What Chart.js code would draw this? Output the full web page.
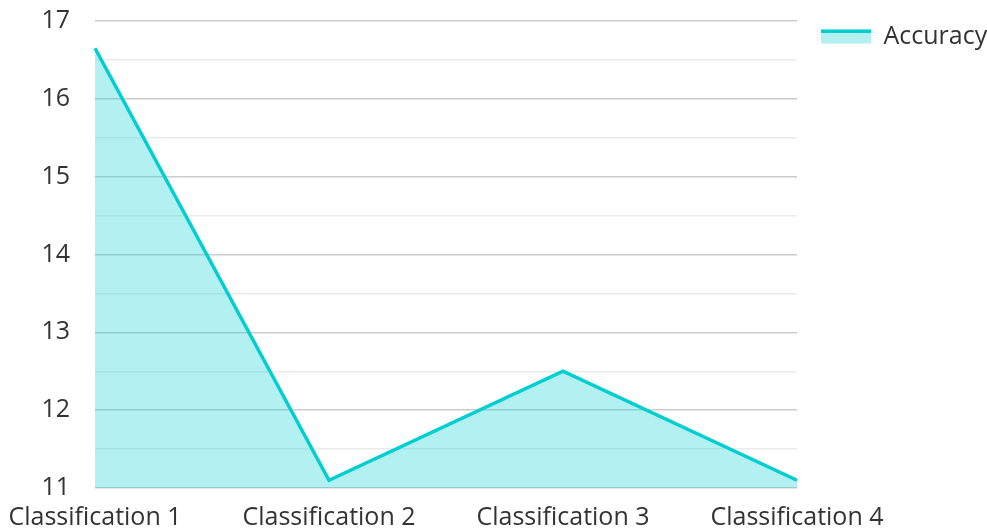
<!DOCTYPE html>
<html>
<head>
<meta charset="utf-8">
<script src="https://cdn.jsdelivr.net/npm/chart.js@4/dist/chart.umd.min.js"></script>
<style>
  html, body { margin: 0; padding: 0; background: #fff; }
  #wrap { width: 987px; height: 529px; }
</style>
</head>
<body>
<div id="wrap"><canvas id="lineChart"></canvas></div>
<script>
const categories = ["Classification 1", "Classification 2", "Classification 3", "Classification 4"];
const accuracy = [16.65, 11.1, 12.5, 11.1];
const yTicks = [11, 12, 13, 14, 15, 16, 17];

const LINE = "#00ced1";
const FILL = "rgba(0, 206, 209, 0.3)";
const FONT_SIZE = 25;
const BOX_H = 14;

// fixed legend width so the plot ends where the reference does
const legendWidth = {
  id: "legendWidth",
  beforeLayout(chart) {
    const lg = chart.legend;
    if (!lg || lg._fixedWidth) return;
    const fit = lg.fit;
    lg.fit = function () {
      fit.call(this);
      this.width = 190;
    };
    lg._fixedWidth = true;
  }
};

// draws the coloured stroke on top of the legend swatch
const legendTopLine = {
  id: "legendTopLine",
  afterDraw(chart) {
    const legend = chart.legend;
    if (!legend || !legend.legendHitBoxes) return;
    const ctx = chart.ctx;
    legend.legendHitBoxes.forEach(box => {
      const top = box.top + Math.max((FONT_SIZE - BOX_H) / 2, 0);
      ctx.save();
      ctx.fillStyle = LINE;
      ctx.fillRect(box.left, top, 50, 3.5);
      ctx.restore();
    });
  }
};

Chart.defaults.font.family = "'Open Sans', 'Noto Sans', sans-serif";
Chart.defaults.font.size = FONT_SIZE;
Chart.defaults.color = "#333";

new Chart(document.getElementById("lineChart"), {
  type: "line",
  data: {
    labels: categories,
    datasets: [{
      label: "Accuracy",
      data: accuracy,
      borderColor: LINE,
      backgroundColor: FILL,
      borderWidth: 3.5,
      fill: "start",
      tension: 0,
      pointRadius: 0,
      pointHoverRadius: 0
    }]
  },
  options: {
    responsive: true,
    maintainAspectRatio: false,
    animation: false,
    layout: { padding: { left: 10, top: 0, right: 0, bottom: 0 } },
    plugins: {
      tooltip: { enabled: false },
      legend: {
        position: "right",
        align: "start",
        labels: {
          boxWidth: 50,
          boxHeight: BOX_H,
          padding: 24,
          generateLabels: () => [{
            text: "Accuracy",
            fillStyle: FILL,
            strokeStyle: "rgba(0,0,0,0)",
            lineWidth: 0,
            fontColor: "#333"
          }]
        }
      }
    },
    scales: {
      x: {
        offset: false,
        grid: { display: false, drawTicks: false },
        border: { display: false },
        afterFit(scale) {
          scale.height = 41;
          scale.paddingLeft = 95;
          scale.paddingRight = 0;
        },
        ticks: { padding: 15, maxRotation: 0, autoSkip: false }
      },
      y: {
        min: 11,
        max: 17,
        z: 1,
        border: { display: false },
        afterFit(scale) {
          scale.paddingTop = 21;
          scale.paddingBottom = 0;
        },
        grid: {
          drawTicks: false,
          lineWidth: 1.5,
          color: ctx => (ctx.tick && yTicks.includes(ctx.tick.value)) ? "rgba(0,0,0,0.2)" : "rgba(0,0,0,0.08)"
        },
        ticks: {
          stepSize: 0.5,
          padding: 25,
          callback: v => yTicks.includes(v) ? v : ""
        }
      }
    }
  },
  plugins: [legendWidth, legendTopLine]
});
</script>
</body>
</html>
